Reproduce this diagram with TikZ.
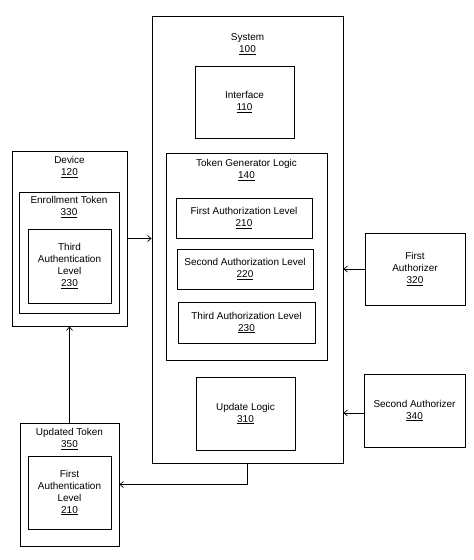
\documentclass[tikz,border=0pt]{standalone}
\usepackage{fontspec}
\setmainfont{Liberation Sans}
\usetikzlibrary{arrows.meta,positioning}
\newcommand{\refnum}[1]{\underline{#1}}

\begin{document}
\begin{tikzpicture}[x=1bp, y=-1bp,
  box/.style={draw, line width=0.9bp, inner sep=0pt, align=center,
              font=\fontsize{10}{12}\selectfont},
  ttl/.style={inner sep=0pt, align=center, font=\fontsize{10}{12}\selectfont},
  arrow/.style={-{Straight Barb[length=3.5pt, width=6pt]}, line width=0.7bp},
  link/.style={line width=0.7bp},
]
  \useasboundingbox (0,0) rectangle (474,560);

  % System
  \node[box, minimum width=191bp, minimum height=447bp] (sys) at (247.5, 239.5) {};
  \node[ttl] (systtl) at (247.5, 44) {System\\\refnum{100}};
  \node[box, minimum width=99bp, minimum height=72bp] (iface) at (244.5, 102)
    {Interface\\\refnum{110}};

  % Token generator logic
  \node[box, minimum width=161bp, minimum height=207bp] (tgl) at (246.5, 256.5) {};
  \node[ttl] (tglttl) at (246.5, 170) {Token Generator Logic\\\refnum{140}};
  \node[box, minimum width=136bp, minimum height=40bp] (lvl1) at (244, 218)
    {First Authorization Level\\\refnum{210}};
  \node[box, minimum width=136bp, minimum height=40bp] (lvl2) at (245, 269)
    {Second Authorization Level\\\refnum{220}};
  \node[box, minimum width=137bp, minimum height=41bp] (lvl3) at (246.5, 322.5)
    {Third Authorization Level\\\refnum{230}};

  \node[box, minimum width=99bp, minimum height=73bp] (upd) at (245.5, 413.5)
    {Update Logic\\\refnum{310}};

  % Device
  \node[box, minimum width=115bp, minimum height=175bp] (dev) at (69.5, 238.5) {};
  \node[ttl] (devttl) at (69.5, 167) {Device\\\refnum{120}};
  \node[box, minimum width=100bp, minimum height=121bp] (enr) at (69, 252.5) {};
  \node[ttl] (enrttl) at (69, 207) {Enrollment Token\\\refnum{330}};
  \node[box, minimum width=83bp, minimum height=74bp] (enrlvl) at (69.5, 266)
    {Third\\Authentication\\Level\\\refnum{230}};

  % Updated token
  \node[box, minimum width=99bp, minimum height=123bp] (utok) at (69.5, 484.5) {};
  \node[ttl] (utokttl) at (69.5, 439) {Updated Token\\\refnum{350}};
  \node[box, minimum width=83bp, minimum height=73bp] (utoklvl) at (69.5, 492.5)
    {First\\Authentication\\Level\\\refnum{210}};

  % Authorizers
  \node[box, minimum width=100bp, minimum height=72bp] (auth1) at (415, 269)
    {First\\Authorizer\\\refnum{320}};
  \node[box, minimum width=101bp, minimum height=73bp] (auth2) at (414.5, 410.5)
    {Second Authorizer\\\refnum{340}};

  % Connectors
  \draw[arrow] (dev.east) -- (dev.east -| sys.west);
  \draw[arrow] (auth1.west) -- (auth1.west -| sys.east);
  \draw[arrow] ([yshift=-2.5bp]auth2.west) -- ([yshift=-2.5bp]auth2.west -| sys.east);
  \draw[arrow] (sys.south) |- (utok.east);
  \draw[arrow] (utok.north) -- (dev.south);

\end{tikzpicture}
\end{document}
